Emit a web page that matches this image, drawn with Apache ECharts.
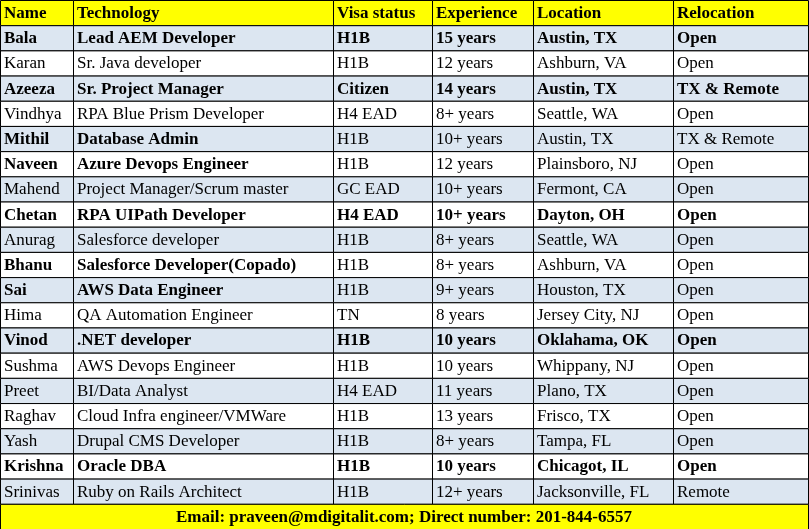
<!DOCTYPE html>
<html><head><meta charset="utf-8">
<script src="https://cdn.jsdelivr.net/npm/echarts@6/dist/echarts.min.js"></script>
<style>html,body{margin:0;padding:0;background:#fff}#main{width:809px;height:529px}</style>
</head><body><div id="main"></div>
<script>
var headers = ['Name', 'Technology', 'Visa status', 'Experience', 'Location', 'Relocation'];
var names = ['Bala','Karan','Azeeza','Vindhya','Mithil','Naveen','Mahend','Chetan','Anurag','Bhanu','Sai','Hima','Vinod','Sushma','Preet','Raghav','Yash','Krishna','Srinivas'];
var tech = ['Lead AEM Developer','Sr. Java developer','Sr. Project Manager','RPA Blue Prism Developer','Database Admin','Azure Devops Engineer','Project Manager/Scrum master','RPA UIPath Developer','Salesforce developer','Salesforce Developer(Copado)','AWS Data Engineer','QA Automation Engineer','.NET developer','AWS Devops Engineer','BI/Data Analyst','Cloud Infra engineer/VMWare','Drupal CMS Developer','Oracle DBA','Ruby on Rails Architect'];
var visa = ['H1B','H1B','Citizen','H4 EAD','H1B','H1B','GC EAD','H4 EAD','H1B','H1B','H1B','TN','H1B','H1B','H4 EAD','H1B','H1B','H1B','H1B'];
var experience = ['15 years','12 years','14 years','8+ years','10+ years','12 years','10+ years','10+ years','8+ years','8+ years','9+ years','8 years','10 years','10 years','11 years','13 years','8+ years','10 years','12+ years'];
var locations = ['Austin, TX','Ashburn, VA','Austin, TX','Seattle, WA','Austin, TX','Plainsboro, NJ','Fermont, CA','Dayton, OH','Seattle, WA','Ashburn, VA','Houston, TX','Jersey City, NJ','Oklahama, OK','Whippany, NJ','Plano, TX','Frisco, TX','Tampa, FL','Chicagot, IL','Jacksonville, FL'];
var relocation = ['Open','Open','TX & Remote','Open','TX & Remote','Open','Open','Open','Open','Open','Open','Open','Open','Open','Open','Open','Open','Open','Remote'];
// number of leading columns shown in bold for each row
var boldCols = [6,0,6,0,2,2,0,6,0,2,2,0,6,0,0,0,0,6,0];
var footer = 'Email: praveen@mdigitalit.com; Direct number: 201-844-6557';

var colEdges = [0, 73, 333, 432, 533, 673, 808];
var columns = [names, tech, visa, experience, locations, relocation];
var rowCount = names.length + 2;
var rowLabels = [];
for (var r = 0; r < rowCount; r++) rowLabels.push('r' + r);

var cells = [];
for (var c = 0; c < 6; c++) cells.push([c, 0, headers[c]]);
for (var i = 0; i < names.length; i++) {
    for (var c = 0; c < 6; c++) cells.push([c, i + 1, columns[c][i]]);
}
cells.push([-1, rowCount - 1, footer]);

var chart = echarts.init(document.getElementById('main'));
chart.setOption({
    animation: false,
    grid: {left: 0, right: 0, top: 0, bottom: 0},
    xAxis: {type: 'value', min: 0, max: 809, show: false},
    yAxis: {type: 'category', data: rowLabels, inverse: true, show: false},
    series: [{
        type: 'custom',
        data: cells,
        encode: {x: 0, y: 1},
        renderItem: function (params, api) {
            var col = api.value(0), row = api.value(1), text = cells[params.dataIndex][2];
            var h = api.size([0, 1])[1];
            var yc = api.coord([0, row])[1];
            var top = yc - h / 2;
            var x0, x1, fill, bold, align = 'left';
            if (col < 0) {
                x0 = api.coord([colEdges[0], 0])[0]; x1 = api.coord([colEdges[6], 0])[0];
                fill = '#ffff00'; bold = true; align = 'center';
            } else {
                x0 = api.coord([colEdges[col], 0])[0]; x1 = api.coord([colEdges[col + 1], 0])[0];
                if (row === 0) { fill = '#ffff00'; bold = true; }
                else {
                    fill = (row % 2 === 1) ? '#dce6f1' : '#ffffff';
                    bold = col < boldCols[row - 1];
                }
            }
            return {
                type: 'group',
                children: [{
                    type: 'rect',
                    shape: {x: x0 + 0.5, y: top + 0.5, width: x1 - x0, height: h},
                    style: {fill: fill, stroke: '#000', lineWidth: 1}
                }, {
                    type: 'text',
                    style: {
                        text: text,
                        x: align === 'center' ? (x0 + x1) / 2 : x0 + 4,
                        y: yc + 1,
                        align: align,
                        verticalAlign: 'middle',
                        fill: '#000',
                        fontSize: 17,
                        fontWeight: bold ? 'bold' : 'normal',
                        fontFamily: '"Liberation Serif", "Times New Roman", serif'
                    }
                }]
            };
        }
    }]
});
</script>
</body></html>
